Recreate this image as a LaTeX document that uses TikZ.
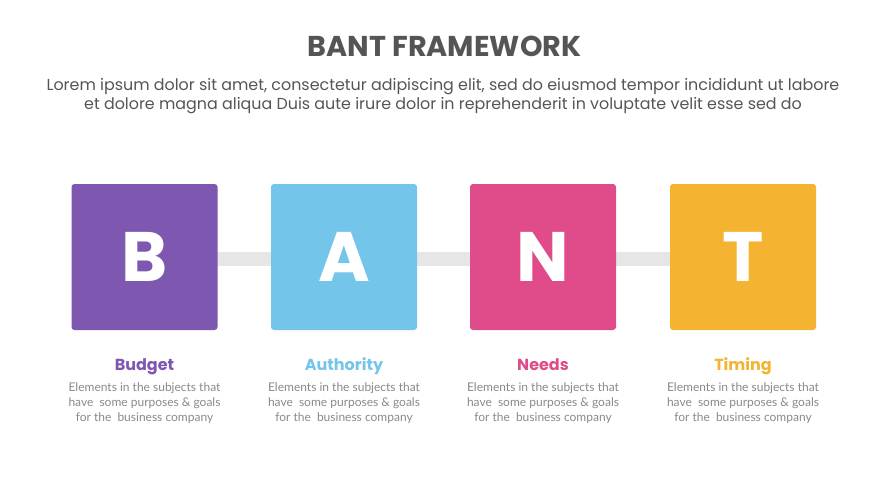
\documentclass[tikz,border=0pt]{standalone}
\usepackage{fontspec}
\setmainfont{Poppins}
\newfontfamily\lato{Lato}
\definecolor{cB}{HTML}{7E57B0}
\definecolor{cA}{HTML}{74C5EA}
\definecolor{cN}{HTML}{E04B8A}
\definecolor{cT}{HTML}{F4B331}
\definecolor{bar}{HTML}{E6E6E6}
\definecolor{txt}{HTML}{555555}
\definecolor{desc}{HTML}{8A8A8A}
\begin{document}
\begin{tikzpicture}[x=1pt,y=-1pt,
  sq/.style={fill=#1,rounded corners=3pt,minimum width=146pt,minimum height=146pt,inner sep=0,text=white,font=\fontsize{70}{70}\selectfont\bfseries},
  lab/.style={text=#1,font=\fontsize{16}{18}\selectfont\bfseries,anchor=base},
  dsc/.style={text=desc,font=\lato\fontsize{12}{15}\selectfont,align=center}]
\useasboundingbox (0,0) rectangle (889,500);
\fill[white] (0,0) rectangle (889,500);
\node[text=txt,font=\fontsize{28.7}{30}\selectfont\bfseries] (title) at (444.5,46) {BANT FRAMEWORK};
\node[text=txt,font=\fontsize{15.9}{18.5}\selectfont,align=center] (sub) at (443,96) {Lorem ipsum dolor sit amet, consectetur adipiscing elit, sed do eiusmod tempor incididunt ut labore\\et dolore magna aliqua Duis aute irure dolor in reprehenderit in voluptate velit esse sed do};
\fill[bar] (144,252) rectangle (743,266);
\foreach \n/\c/\x/\l/\w in {b/cB/144.5/B/Budget, a/cA/344/A/Authority, n/cN/543/N/Needs, t/cT/743/T/Timing}{
  \node[sq=\c] (\n) at (\x,257) {\l};
  \node[lab=\c] (\n l) at (\x,370) {\w};
  \node[dsc] (\n d) at (\x,403) {Elements in the subjects that\\have\ \ some purposes \& goals\\for the\ \ business company};
}
\end{tikzpicture}
\end{document}
